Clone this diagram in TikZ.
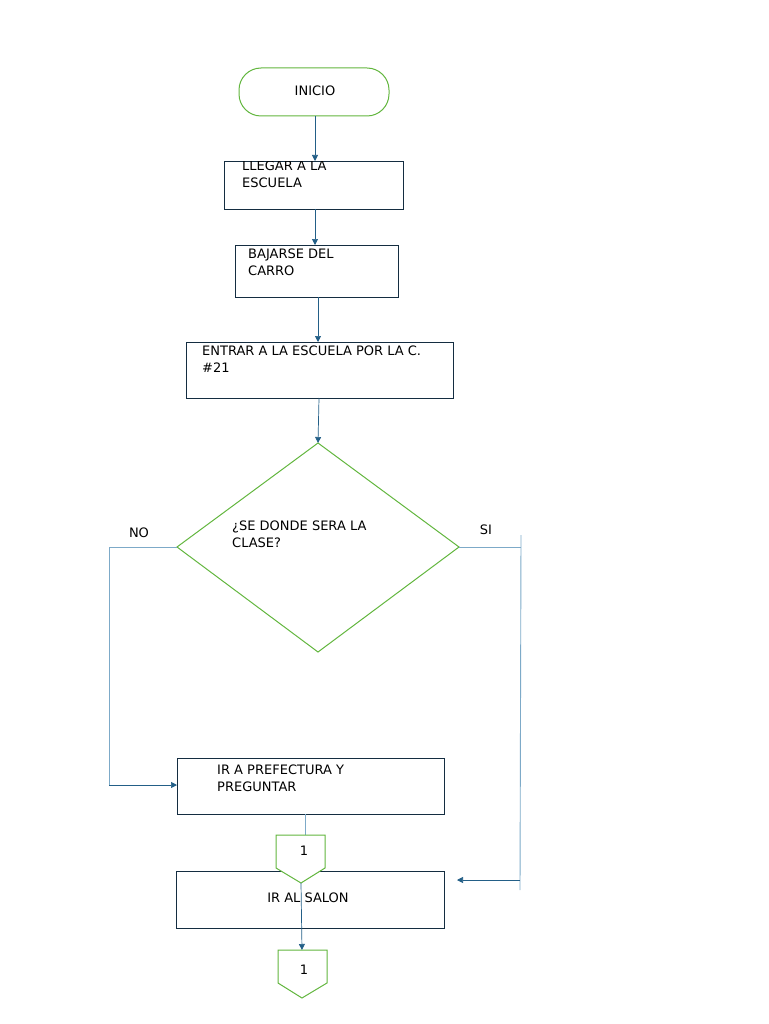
\documentclass[tikz,border=0pt]{standalone}
\usepackage{fontspec}
\setmainfont{DejaVu Sans}
\usetikzlibrary{arrows.meta}
\definecolor{gr}{RGB}{98,182,62}
\definecolor{ar}{RGB}{35,95,135}
\definecolor{bx}{RGB}{20,45,65}
\definecolor{lb}{RGB}{125,170,200}
\begin{document}
\begin{tikzpicture}[x=1pt,y=-1pt,
  box/.style={draw=bx,line width=0.9pt},
  txt/.style={anchor=base west,inner sep=0,font=\fontsize{13}{17}\selectfont,align=left},
  arr/.style={draw=ar,line width=0.7pt,-{Triangle[length=6pt,width=6pt]}},
  ln/.style={draw=lb,line width=0.9pt},
  conn/.style={draw=gr,line width=1pt,fill=white}]
\useasboundingbox (0,0) rectangle (768,1024);
\node[draw=gr,line width=1pt,rounded corners=22pt,minimum width=150pt,minimum height=48pt] (ini) at (314,92) {};
\node[txt,anchor=base] at (315,96) {INICIO};
\draw[box] (224,161) rectangle (403,209);
\coordinate (b1t) at (315,161); \coordinate (b1b) at (315,209);
\begin{scope}\clip (225,162) rectangle (402,203);
\node[txt] at (242,188) {LLEGAR A LA\\ESCUELA};\end{scope}
\draw[box] (235,245) rectangle (398,297);
\coordinate (b2t) at (315,245); \coordinate (b2b) at (318,297);
\begin{scope}\clip (236,246) rectangle (397,289);
\node[txt] at (248,275) {BAJARSE DEL\\CARRO};\end{scope}
\draw[box] (186,342) rectangle (453,398);
\coordinate (b3t) at (318,342); \coordinate (b3b) at (319,398);
\begin{scope}\clip (187,343) rectangle (452,384);
\node[txt] at (202,372) {ENTRAR A LA ESCUELA POR LA C.\\\#21};\end{scope}
\draw[conn,fill=none] (318,443) coordinate (dt) -- (459,547) coordinate (dr) -- (318,652) -- (177,547) coordinate (dl) -- cycle;
\begin{scope}\clip (200,520) rectangle (440,557);
\node[txt] at (232,547) {¿SE DONDE SERÁ LA\\CLASE?};\end{scope}
\draw[box,line width=0.7pt] (177,758) rectangle (444,814);
\coordinate (b4l) at (177,785); \coordinate (b4b) at (305,814);
\begin{scope}\clip (178,759) rectangle (443,800);
\node[txt] at (217,791) {IR A PREFECTURA Y\\PREGUNTAR};\end{scope}
\draw[box] (176,871) rectangle (444,928);
\coordinate (b5r) at (457,880);
\node[txt,anchor=base] at (308,902) {IR AL SALON};
\draw[arr] (315,116) -- (b1t);
\draw[arr] (b1b) -- (b2t);
\draw[arr] (b2b) -- (b3t);
\draw[arr] (b3b) -- (dt);
\draw[ln] (dl) -- (109,547) -- (109,785);
\draw[arr] (109,785) -- (b4l);
\draw[ln] (dr) -- (521,547);
\draw[ln] (521,535) -- (520,890);
\draw[arr] (520,880) -- (b5r);
\node[txt,anchor=base] at (139,537) {NO};
\node[txt,anchor=base] at (486,534) {SI};
\draw[ln] (b4b) -- (305,835);
\draw[conn] (276,835) -- (325,835) -- (325,868) -- (301,883) coordinate (c1) -- (276,868) -- cycle;
\node[txt,anchor=base] at (304,855) {1};
\draw[conn] (278,950) coordinate (c2l) -- (327,950) -- (327,983) -- (302,998) -- (278,983) -- cycle;
\coordinate (c2t) at (302,950);
\node[txt,anchor=base] at (304,974) {1};
\draw[arr] (c1) -- (c2t);
\end{tikzpicture}
\end{document}
